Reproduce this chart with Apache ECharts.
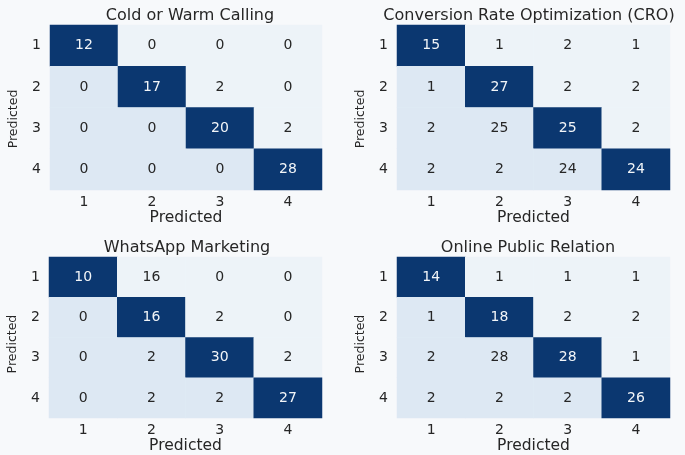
<!DOCTYPE html>
<html><head><meta charset="utf-8">
<script src="https://cdn.jsdelivr.net/npm/echarts@6/dist/echarts.min.js"></script>
<style>html,body{margin:0;padding:0;background:#f7f9fb}#c{width:685px;height:455px}</style>
</head><body><div id="c"></div>
<script>
const labels = ['1','2','3','4'];
const titles = ['Cold or Warm Calling','Conversion Rate Optimization (CRO)','WhatsApp Marketing','Online Public Relation'];
const coldWarm = [[12,0,0,0],[0,17,2,0],[0,0,20,2],[0,0,0,28]];
const cro = [[15,1,2,1],[1,27,2,2],[2,25,25,2],[2,2,24,24]];
const whatsapp = [[10,16,0,0],[0,16,2,0],[0,2,30,2],[0,2,2,27]];
const onlinePR = [[14,1,1,1],[1,18,2,2],[2,28,28,1],[2,2,2,26]];
const matrices = [coldWarm, cro, whatsapp, onlinePR];

const grids = [
  {left:50, top:25, width:272, height:165},
  {left:397, top:25, width:273, height:165},
  {left:49, top:257, width:273, height:163},
  {left:397, top:257, width:273, height:163}
];
const titleX = [185, 524, 182, 523];
const yNamePad = [23, 23, 13, 13];
const FONT = 'DejaVu Sans';
const option = {backgroundColor:'#f7f9fb', animation:false, title:[], grid:[], xAxis:[], yAxis:[], series:[]};
matrices.forEach((m, k) => {
  const g = grids[k];
  option.grid.push(g);
  option.title.push({text:titles[k], left:titleX[k], top:g.top - 22, textAlign:'center',
    textStyle:{fontFamily:FONT, fontSize:16, fontWeight:'normal', color:'#262626'}});
  option.xAxis.push({type:'category', gridIndex:k, data:labels, position:'bottom',
    axisLine:{show:false}, axisTick:{show:false}, splitArea:{show:false},
    axisLabel:{fontFamily:FONT, fontSize:14, color:'#262626', margin:5},
    name:'Predicted', nameLocation:'middle', nameGap:17,
    nameTextStyle:{fontFamily:FONT, fontSize:15.5, color:'#262626'}});
  option.yAxis.push({type:'category', gridIndex:k, data:labels, inverse:true,
    axisLine:{show:false}, axisTick:{show:false},
    axisLabel:{fontFamily:FONT, fontSize:14, color:'#262626', margin:9},
    name:'Predicted', nameLocation:'middle', nameGap:30, nameRotate:90,
    nameTextStyle:{fontFamily:FONT, fontSize:12.5, color:'#262626', padding:[0, yNamePad[k], 0, 0]}});
  const data = [];
  m.forEach((row, r) => row.forEach((v, c) => {
    const diag = r === c;
    const col = diag ? '#0b3770' : (r > c ? '#dde8f3' : '#edf3f8');
    data.push({value:[c, r, v], itemStyle:{color:col},
      label:{color: diag ? '#f2f5f8' : '#262626'}});
  }));
  option.series.push({type:'heatmap', xAxisIndex:k, yAxisIndex:k, data,
    label:{show:true, fontFamily:FONT, fontSize:14},
    itemStyle:{borderWidth:0}});
});
const chart = echarts.init(document.getElementById('c'), null, {renderer:'canvas'});
chart.setOption(option);
</script></body></html>
